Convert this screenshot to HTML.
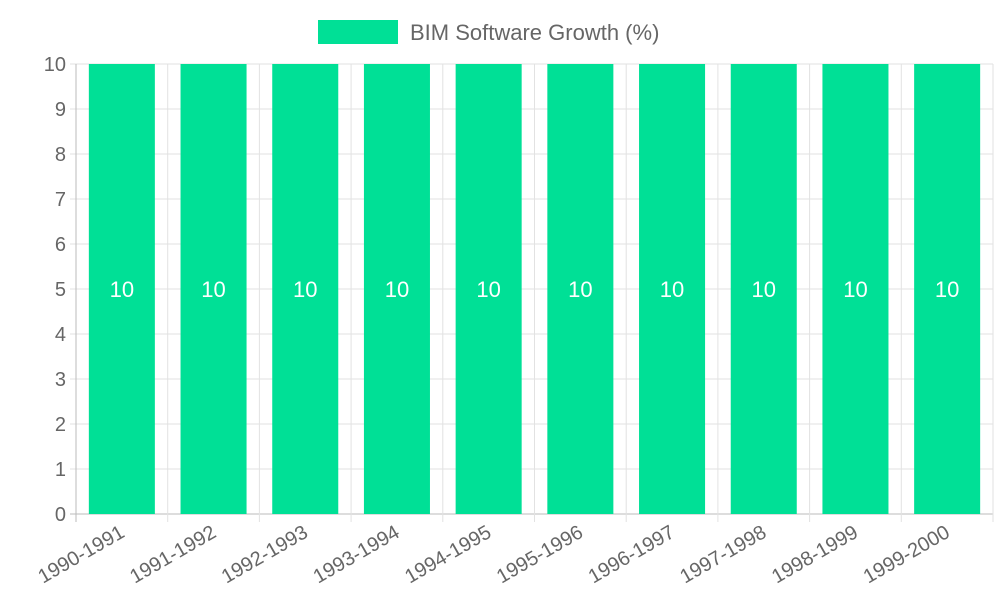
<!DOCTYPE html>
<html><head><meta charset="utf-8"><style>
body{margin:0;background:#fff;}
svg{display:block;font-family:"Liberation Sans",sans-serif;}
</style></head><body>
<svg id="chart" width="1000" height="600">
<g>
<rect x="318" y="20" width="80" height="24" fill="#00e096"></rect>
<text x="410" y="40" font-size="22" fill="#666">BIM Software Growth (%)</text>
</g>
<g id="grid"></g><g id="bars"></g><g id="axes"></g>
</svg>
<script>
const categories=["1990-1991","1991-1992","1992-1993","1993-1994","1994-1995","1995-1996","1996-1997","1997-1998","1998-1999","1999-2000"];
const values=[10,10,10,10,10,10,10,10,10,10];
const yTicks=[0,1,2,3,4,5,6,7,8,9,10];
const NS="http://www.w3.org/2000/svg";
const L=76,R=993,T=64,B=514,yMax=10;
const bw=(R-L)/categories.length;
const y=v=>B-(v/yMax)*(B-T);
const x=i=>L+bw*i+bw/2;
function mk(tag,attrs,parent){const e=document.createElementNS(NS,tag);for(const k in attrs)e.setAttribute(k,attrs[k]);parent.appendChild(e);return e;}
const grid=document.getElementById('grid'),bars=document.getElementById('bars'),axes=document.getElementById('axes');
yTicks.forEach(t=>{
 const g=mk('line',{x1:L-6,x2:R,y1:y(t),y2:y(t),stroke:t===0?'#bbb':'#e2e2e2','stroke-width':1},grid);
 
 
 const lb=mk('text',{x:L-10,y:y(t)+7,'text-anchor':'end','font-size':20,fill:'#666'},axes);
 lb.textContent=t;
 
 
});
for(let i=0;i<=categories.length;i++){
 const gx=L+bw*i;
 const g=mk('line',{x1:gx,x2:gx,y1:T,y2:B+8,stroke:i===0?'#bbb':'#e2e2e2','stroke-width':1},grid);
 
 
}
categories.forEach((c,i)=>{
 const w=bw*0.72;
 const r=mk('rect',{x:x(i)-w/2,y:y(values[i]),width:w,height:B-y(values[i]),fill:'#00e096'},bars);
 
 
 const v=mk('text',{x:x(i),y:(y(values[i])+B)/2+8,'text-anchor':'middle','font-size':22,fill:'#fff'},bars);
 v.textContent=values[i];
 
 
 const xl=mk('text',{x:x(i)+4,y:B+22,'text-anchor':'end','font-size':20,fill:'#666',transform:`rotate(-30 ${x(i)+4} ${B+22})`},axes);
 xl.textContent=c;
 
 
});
</script>
</body></html>
